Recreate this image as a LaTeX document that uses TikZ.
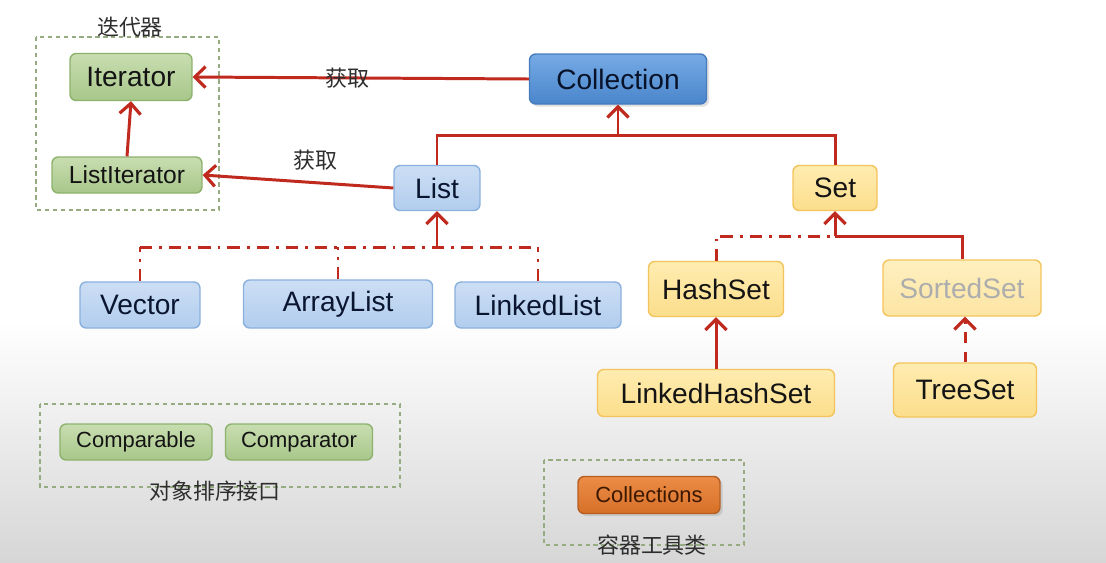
\documentclass[tikz,border=0pt]{standalone}
\usepackage{fontspec}
\setmainfont{Liberation Sans}
\newfontfamily\cjk{Noto Sans CJK SC}
\usetikzlibrary{arrows.meta,shadows}

\definecolor{linkred}{RGB}{192,42,30}
\definecolor{greentop}{RGB}{200,221,176}
\definecolor{greenbot}{RGB}{168,199,138}
\definecolor{greenline}{RGB}{140,178,108}
\definecolor{bluetop}{RGB}{204,222,244}
\definecolor{bluebot}{RGB}{178,205,238}
\definecolor{blueline}{RGB}{138,176,222}
\definecolor{darktop}{RGB}{118,170,228}
\definecolor{darkbot}{RGB}{74,134,204}
\definecolor{darkline}{RGB}{70,124,190}
\definecolor{yellowtop}{RGB}{254,236,176}
\definecolor{yellowbot}{RGB}{252,222,140}
\definecolor{yellowline}{RGB}{244,196,92}
\definecolor{orangetop}{RGB}{236,140,70}
\definecolor{orangebot}{RGB}{214,112,40}
\definecolor{groupline}{RGB}{150,172,128}

\tikzset{
  box/.style={rounded corners=3.5pt, line width=0.8pt, inner sep=0pt,
    font=\fontsize{16}{18}\selectfont, text=black!92},
  greenbox/.style={box, draw=greenline, top color=greentop, bottom color=greenbot},
  bluebox/.style={box, draw=blueline, top color=bluetop, bottom color=bluebot, text={rgb,255:red,10;green,22;blue,48}},
  darkbox/.style={box, draw=darkline, top color=darktop, bottom color=darkbot,
    text={rgb,255:red,8;green,18;blue,40}, drop shadow={opacity=0.25, shadow xshift=1.5pt, shadow yshift=-1.5pt}},
  yellowbox/.style={box, draw=yellowline, top color=yellowtop, bottom color=yellowbot},
  orangebox/.style={box, draw=orangebot!85!black, top color=orangetop, bottom color=orangebot,
    text={rgb,255:red,60;green,24;blue,0}, drop shadow={opacity=0.25, shadow xshift=1.5pt, shadow yshift=-1.5pt}},
  link/.style={draw=linkred, line width=1.7pt},
  getarrow/.style={link, -{Straight Barb[length=6pt,width=12pt,line width=1.8pt]}},
  dashdot/.style={link, dash pattern=on 7pt off 4pt on 1.6pt off 4pt},
  group/.style={draw=groupline, dash pattern=on 2.5pt off 2pt, line width=0.6pt},
  grouplabel/.style={font=\cjk\fontsize{12.5}{14}\selectfont, text=black!82},
}

\begin{document}
\begin{tikzpicture}[x=0.02cm,y=-0.02cm]
    % background
    \useasboundingbox (0,0) rectangle (1106,562);
    \fill[white] (0,0) rectangle (1106,320);
    \shade[top color=white, bottom color=black!16] (0,320) rectangle (1106,562);

    % groups
    \draw[group] (36,37) rectangle (219,210);
    \draw[group] (40,404) rectangle (400,487);
    \draw[group] (544,460) rectangle (744,545);
    \node[grouplabel] (itlabel) at (130,27) {迭代器};
    \node[grouplabel] (sortlabel) at (215,491) {对象排序接口};
    \node[grouplabel] (utillabel) at (652,545) {容器工具类};

    % nodes
    \node[greenbox, minimum width=2.44cm, minimum height=0.94cm] (iter) at (131,77) {Iterator};
    \node[greenbox, minimum width=3.0cm, minimum height=0.72cm, font=\fontsize{14}{16}\selectfont] (listiter) at (127,175) {ListIterator};
    \node[darkbox, minimum width=3.54cm, minimum height=1.0cm] (coll) at (618,79) {Collection};
    \node[bluebox, minimum width=1.72cm, minimum height=0.9cm] (list) at (437,188) {List};
    \node[yellowbox, minimum width=1.68cm, minimum height=0.9cm] (set) at (835,188) {Set};
    \node[bluebox, minimum width=2.4cm, minimum height=0.92cm] (vector) at (140,305) {Vector};
    \node[bluebox, minimum width=3.78cm, minimum height=0.96cm] (arraylist) at (338,304) {ArrayList};
    \node[bluebox, minimum width=3.32cm, minimum height=0.92cm] (linkedlist) at (538,305) {LinkedList};
    \node[yellowbox, minimum width=2.7cm, minimum height=1.1cm] (hashset) at (716,289) {HashSet};
    \node[yellowbox, minimum width=3.16cm, minimum height=1.12cm, top color=yellowtop!80!white, bottom color=yellowbot!80!white, text=black!32] (sortedset) at (962,288) {SortedSet};
    \node[yellowbox, minimum width=4.74cm, minimum height=0.94cm] (linkedhashset) at (716,393) {LinkedHashSet};
    \node[yellowbox, minimum width=2.86cm, minimum height=1.08cm] (treeset) at (965,390) {TreeSet};
    \node[greenbox, minimum width=3.04cm, minimum height=0.72cm, font=\fontsize{12.5}{14}\selectfont] (comparable) at (136,442) {Comparable};
    \node[greenbox, minimum width=2.94cm, minimum height=0.72cm, font=\fontsize{12.5}{14}\selectfont] (comparator) at (299,442) {Comparator};
    \node[orangebox, minimum width=2.84cm, minimum height=0.74cm, font=\fontsize{12.5}{14}\selectfont] (collections) at (649,495) {Collections};

    % junctions
    \coordinate (cj) at (618,135);
    \coordinate (lj) at (437,247);
    \coordinate (sj) at (835,236);

    % connectors
    \draw[getarrow] (coll.west) -- node[pos=0.54, grouplabel] (get1) {获取} (iter.east);
    \draw[getarrow] (list.west) -- node[pos=0.41, above=3pt, grouplabel] (get2) {获取} (listiter.east);
    \draw[getarrow] (listiter.north) -- (iter.south);

    \draw[link] (list.north) |- (cj);
    \draw[link] (set.north) |- (cj);
    \draw[getarrow] (cj) -- (coll.south);

    \draw[dashdot] (vector.north |- lj) -- (linkedlist.north |- lj);
    \draw[dashdot] (vector.north) -- (vector.north |- lj);
    \draw[dashdot] (arraylist.north) -- (arraylist.north |- lj);
    \draw[dashdot] (linkedlist.north) -- (linkedlist.north |- lj);
    \draw[getarrow] (lj) -- (list.south);

    \draw[dashdot] (hashset.north) |- (sj);
    \draw[link] (sortedset.north) |- (sj);
    \draw[getarrow] (sj) -- (set.south);

    \draw[getarrow] (linkedhashset.north) -- (hashset.south);
    \draw[getarrow, dash pattern=on 6pt off 5pt] (treeset.north) -- (treeset.north |- sortedset.south);
  \end{tikzpicture}
\end{document}
